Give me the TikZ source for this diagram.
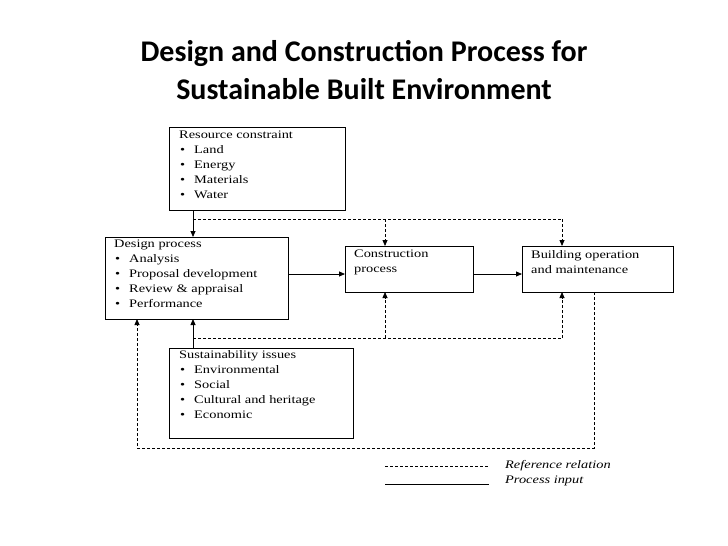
\documentclass[tikz,border=0pt]{standalone}
\usepackage{fontspec}
\setmainfont{Liberation Serif}[FakeStretch=1.25]
\newfontfamily\titlefont{Carlito}
\usetikzlibrary{arrows.meta}
\begin{document}
\begin{tikzpicture}[x=1pt,y=-1pt,
  box/.style={draw,line width=0.8pt,anchor=north west,inner sep=0pt},
  txt/.style={anchor=north west,align=left,inner sep=0pt,font=\fontsize{11.5}{15}\selectfont},
  proc/.style={line width=0.8pt,-{Triangle[length=6pt,width=5pt]}},
  ref/.style={line width=0.8pt,dashed,dash pattern=on 3pt off 2pt,-{Triangle[length=6pt,width=5pt]}},
  refl/.style={line width=0.8pt,dashed,dash pattern=on 3pt off 2pt}]
\useasboundingbox (0,0) rectangle (728,546);
\node[font=\titlefont\bfseries\fontsize{30}{38}\selectfont,align=center] (title) at (364,70)
 {Design and Construction Process for\\Sustainable Built Environment};
\newcommand{\bl}{\makebox[15pt][l]{\hspace{1pt}\textbullet}}
% boxes
\node[box,minimum width=176pt,minimum height=83pt] (res) at (169,127) {};
\node[txt] (rest) at (179,131) {Resource constraint\\\bl Land\\\bl Energy\\\bl Materials\\\bl Water};
\node[box,minimum width=183pt,minimum height=82pt] (des) at (105,237) {};
\node[txt] (dest) at (114,240) {Design process\\\bl Analysis\\\bl Proposal development\\\bl Review \& appraisal\\\bl Performance};
\node[box,minimum width=128pt,minimum height=46pt] (con) at (345,246) {};
\node[txt] (cont) at (354,250) {Construction\\process};
\node[box,minimum width=151pt,minimum height=46pt] (bld) at (522,246) {};
\node[txt] (bldt) at (531,250) {Building operation\\and maintenance};
\node[box,minimum width=184pt,minimum height=90pt] (sus) at (169,348) {};
\node[txt] (sust) at (179,350) {Sustainability issues\\\bl Environmental\\\bl Social\\\bl Cultural and heritage\\\bl Economic};
% coordinates
\coordinate (rb) at (193,210);
\coordinate (dt) at (193,237);
\coordinate (t1) at (193,219);
\coordinate (t2) at (385,219);
\coordinate (t3) at (562,219);
\coordinate (db) at (193,319);
\coordinate (sb) at (193,348);
\coordinate (b1) at (193,338);
\coordinate (b2) at (385,338);
\coordinate (b3) at (562,338);
\coordinate (l1) at (594,292);
\coordinate (l2) at (594,448);
\coordinate (l3) at (137,448);
\coordinate (l4) at (137,319);
% process inputs
\draw[proc] (rb) -- (dt);
\draw[proc] (sb) -- (db);
\draw[proc] (des.east |- 0,274) -- (con.west |- 0,274);
\draw[proc] (con.east |- 0,274) -- (bld.west |- 0,274);
% reference relations
\draw[refl] (t1) -- (t3);
\draw[ref] (t2) -- (385,246);
\draw[ref] (t3) -- (562,246);
\draw[refl] (b1) -- (b3);
\draw[ref] (b2) -- (385,292);
\draw[ref] (b3) -- (562,292);
\draw[ref] (l1) -- (l2) -- (l3) -- (l4);
% legend
\coordinate (g1) at (385,466); \coordinate (g2) at (489,466);
\coordinate (g3) at (385,484); \coordinate (g4) at (489,484);
\draw[refl] (g1) -- (g2);
\draw[line width=0.8pt] (g3) -- (g4);
\node[txt,font=\itshape\fontsize{11.5}{15}\selectfont] (leg) at (505,460) {Reference relation\\Process input};
\end{tikzpicture}
\end{document}
